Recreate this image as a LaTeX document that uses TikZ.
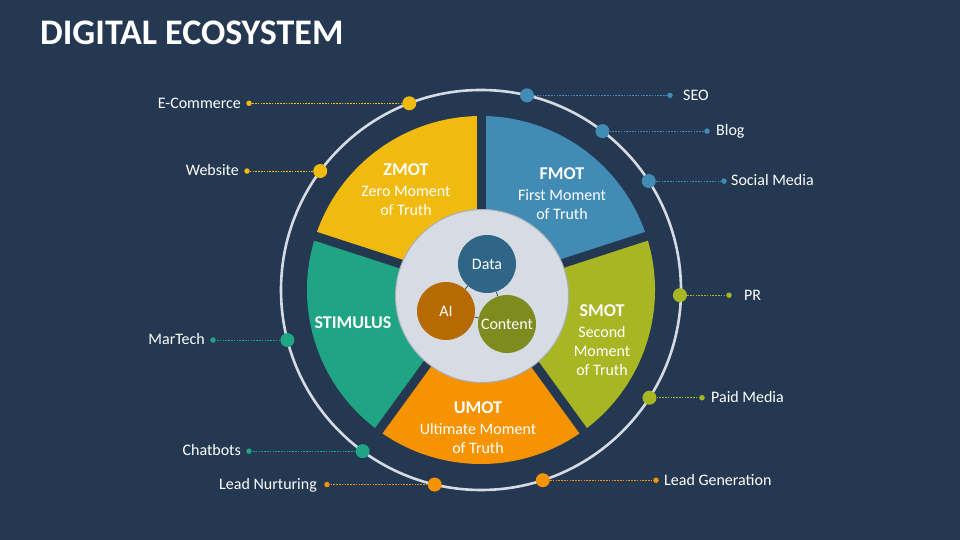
\documentclass[tikz,border=0pt]{standalone}
\usepackage{fontspec}
\setmainfont{Carlito}
\usepackage{xcolor}
\usetikzlibrary{positioning,calc}

\definecolor{bgnavy}{HTML}{243851}
\definecolor{ringgray}{HTML}{D6DBE3}
\definecolor{coregray}{HTML}{D7DCE4}
\definecolor{coreline}{HTML}{A8AFBA}
\definecolor{linkgray}{HTML}{3A4352}
\definecolor{zmotc}{HTML}{F0BA0E}
\definecolor{fmotc}{HTML}{418BB5}
\definecolor{smotc}{HTML}{A9B624}
\definecolor{umotc}{HTML}{F59300}
\definecolor{stimc}{HTML}{1FA584}
\definecolor{datac}{HTML}{2F6586}
\definecolor{aic}{HTML}{B56A02}
\definecolor{contentc}{HTML}{7E8B1F}

\newcommand{\sectorhead}[1]{{\fontsize{18}{22}\selectfont\bfseries #1}}

\begin{document}
\begin{tikzpicture}[
    x=1pt, y=1pt,
    gapline/.style={draw=bgnavy, line width=9pt},
    ring/.style={draw=ringgray, line width=2.6pt},
    bigdot/.style={circle, fill=#1, minimum size=14pt, inner sep=0pt},
    smalldot/.style={circle, fill=#1, minimum size=5.5pt, inner sep=0pt},
    leader/.style={draw=#1, line width=0.9pt, dash pattern=on 1.6pt off 1.2pt},
    lbl/.style={text=white, font=\fontsize{16}{19}\selectfont, inner sep=0pt, text height=9.6pt, text depth=0pt},
    sector/.style={text=white, align=center, font=\fontsize{16}{19}\selectfont},
    hub/.style={circle, fill=#1, minimum size=58pt, inner sep=0pt, text=white, font=\fontsize{16}{18}\selectfont},
    link/.style={draw=linkgray, line width=0.8pt}
]

\useasboundingbox (0,0) rectangle (960,540);
\fill[bgnavy] (0,0) rectangle (960,540);

% Title
\node[anchor=base west, text=white, font=\fontsize{36}{40}\selectfont\bfseries, inner sep=0pt] (title) at (40,495) {DIGITAL ECOSYSTEM};

\coordinate (c) at (481,250);

% Outer ring
\draw[ring] (c) circle[radius=200];

% Pie sectors
\fill[zmotc] (c) -- ++(90:174) arc[start angle=90, end angle=162, radius=174] -- cycle;
\fill[fmotc] (c) -- ++(18:174) arc[start angle=18, end angle=90, radius=174] -- cycle;
\fill[smotc] (c) -- ++(-54:174) arc[start angle=-54, end angle=18, radius=174] -- cycle;
\fill[umotc] (c) -- ++(-126:174) arc[start angle=-126, end angle=-54, radius=174] -- cycle;
\fill[stimc] (c) -- ++(162:174) arc[start angle=162, end angle=234, radius=174] -- cycle;
\foreach \a in {18,90,162,234,306}
    \draw[gapline] (c) -- ++(\a:180);

\node[sector] (zmot) at (406,350) {\sectorhead{ZMOT}\\[2pt]Zero Moment\\of Truth};
\node[sector] (fmot) at (562,346) {\sectorhead{FMOT}\\[2pt]First Moment\\of Truth};
\node[sector] (smot) at (602,200) {\sectorhead{SMOT}\\[2pt]Second\\Moment\\of Truth};
\node[sector] (umot) at (478,112) {\sectorhead{UMOT}\\[2pt]Ultimate Moment\\of Truth};
\node[sector] (stim) at (353,217) {\sectorhead{STIMULUS}};

% Core
\node[circle, fill=coregray, draw=coreline, line width=1pt, minimum size=173pt, inner sep=0pt] (core) at (482,244) {};
\node[hub=datac] (data) at (487,276) {Data};
\node[hub=aic] (ai) at (446,229) {AI};
\node[hub=contentc] (content) at (507,216) {Content};
\draw[link] (data) -- (ai);
\draw[link] (data) -- (content);
\draw[link] (ai) -- (content);

% Ring dots and labels
\node[bigdot=zmotc] (ecom) at ($(c)+(111:200)$) {};
\node[smalldot=zmotc] (ecomE) at (249,0 |- ecom) {};
\draw[leader=zmotc] (ecom) -- (ecomE);
\node[lbl, left=5pt of ecomE] (ecomL) {E-Commerce};

\node[bigdot=zmotc] (web) at ($(c)+(143.5:200)$) {};
\node[smalldot=zmotc] (webE) at (247,0 |- web) {};
\draw[leader=zmotc] (web) -- (webE);
\node[lbl, left=5pt of webE] (webL) {Website};

\node[bigdot=fmotc] (seo) at ($(c)+(76.7:200)$) {};
\node[smalldot=fmotc] (seoE) at (670,0 |- seo) {};
\draw[leader=fmotc] (seo) -- (seoE);
\node[lbl, right=10pt of seoE] (seoL) {SEO};

\node[bigdot=fmotc] (blog) at ($(c)+(52.6:200)$) {};
\node[smalldot=fmotc] (blogE) at (707,0 |- blog) {};
\draw[leader=fmotc] (blog) -- (blogE);
\node[lbl, right=6pt of blogE] (blogL) {Blog};

\node[bigdot=fmotc] (social) at ($(c)+(33:200)$) {};
\node[smalldot=fmotc] (socialE) at (724,0 |- social) {};
\draw[leader=fmotc] (social) -- (socialE);
\node[lbl, right=4pt of socialE] (socialL) {Social Media};

\node[bigdot=smotc] (pr) at ($(c)+(-1.5:199)$) {};
\node[smalldot=smotc] (prE) at (729,0 |- pr) {};
\draw[leader=smotc] (pr) -- (prE);
\node[lbl, right=12pt of prE] (prL) {PR};

\node[bigdot=smotc] (paid) at ($(c)+(-32.6:200)$) {};
\node[smalldot=smotc] (paidE) at (702,0 |- paid) {};
\draw[leader=smotc] (paid) -- (paidE);
\node[lbl, right=6pt of paidE] (paidL) {Paid Media};

\node[bigdot=umotc] (lgen) at ($(c)+(-72:200)$) {};
\node[smalldot=umotc] (lgenE) at (656,0 |- lgen) {};
\draw[leader=umotc] (lgen) -- (lgenE);
\node[lbl, right=5pt of lgenE] (lgenL) {Lead Generation};

\node[bigdot=umotc] (lnur) at ($(c)+(-103.4:200)$) {};
\node[smalldot=umotc] (lnurE) at (327,0 |- lnur) {};
\draw[leader=umotc] (lnur) -- (lnurE);
\node[lbl, left=7pt of lnurE] (lnurL) {Lead Nurturing};

\node[bigdot=stimc] (chat) at ($(c)+(-126.3:200)$) {};
\node[smalldot=stimc] (chatE) at (249,0 |- chat) {};
\draw[leader=stimc] (chat) -- (chatE);
\node[lbl, left=5pt of chatE] (chatL) {Chatbots};

\node[bigdot=stimc] (mar) at ($(c)+(194.5:200)$) {};
\node[smalldot=stimc] (marE) at (213,0 |- mar) {};
\draw[leader=stimc] (mar) -- (marE);
\node[lbl, left=5pt of marE] (marL) {MarTech};

\end{tikzpicture}
\end{document}
